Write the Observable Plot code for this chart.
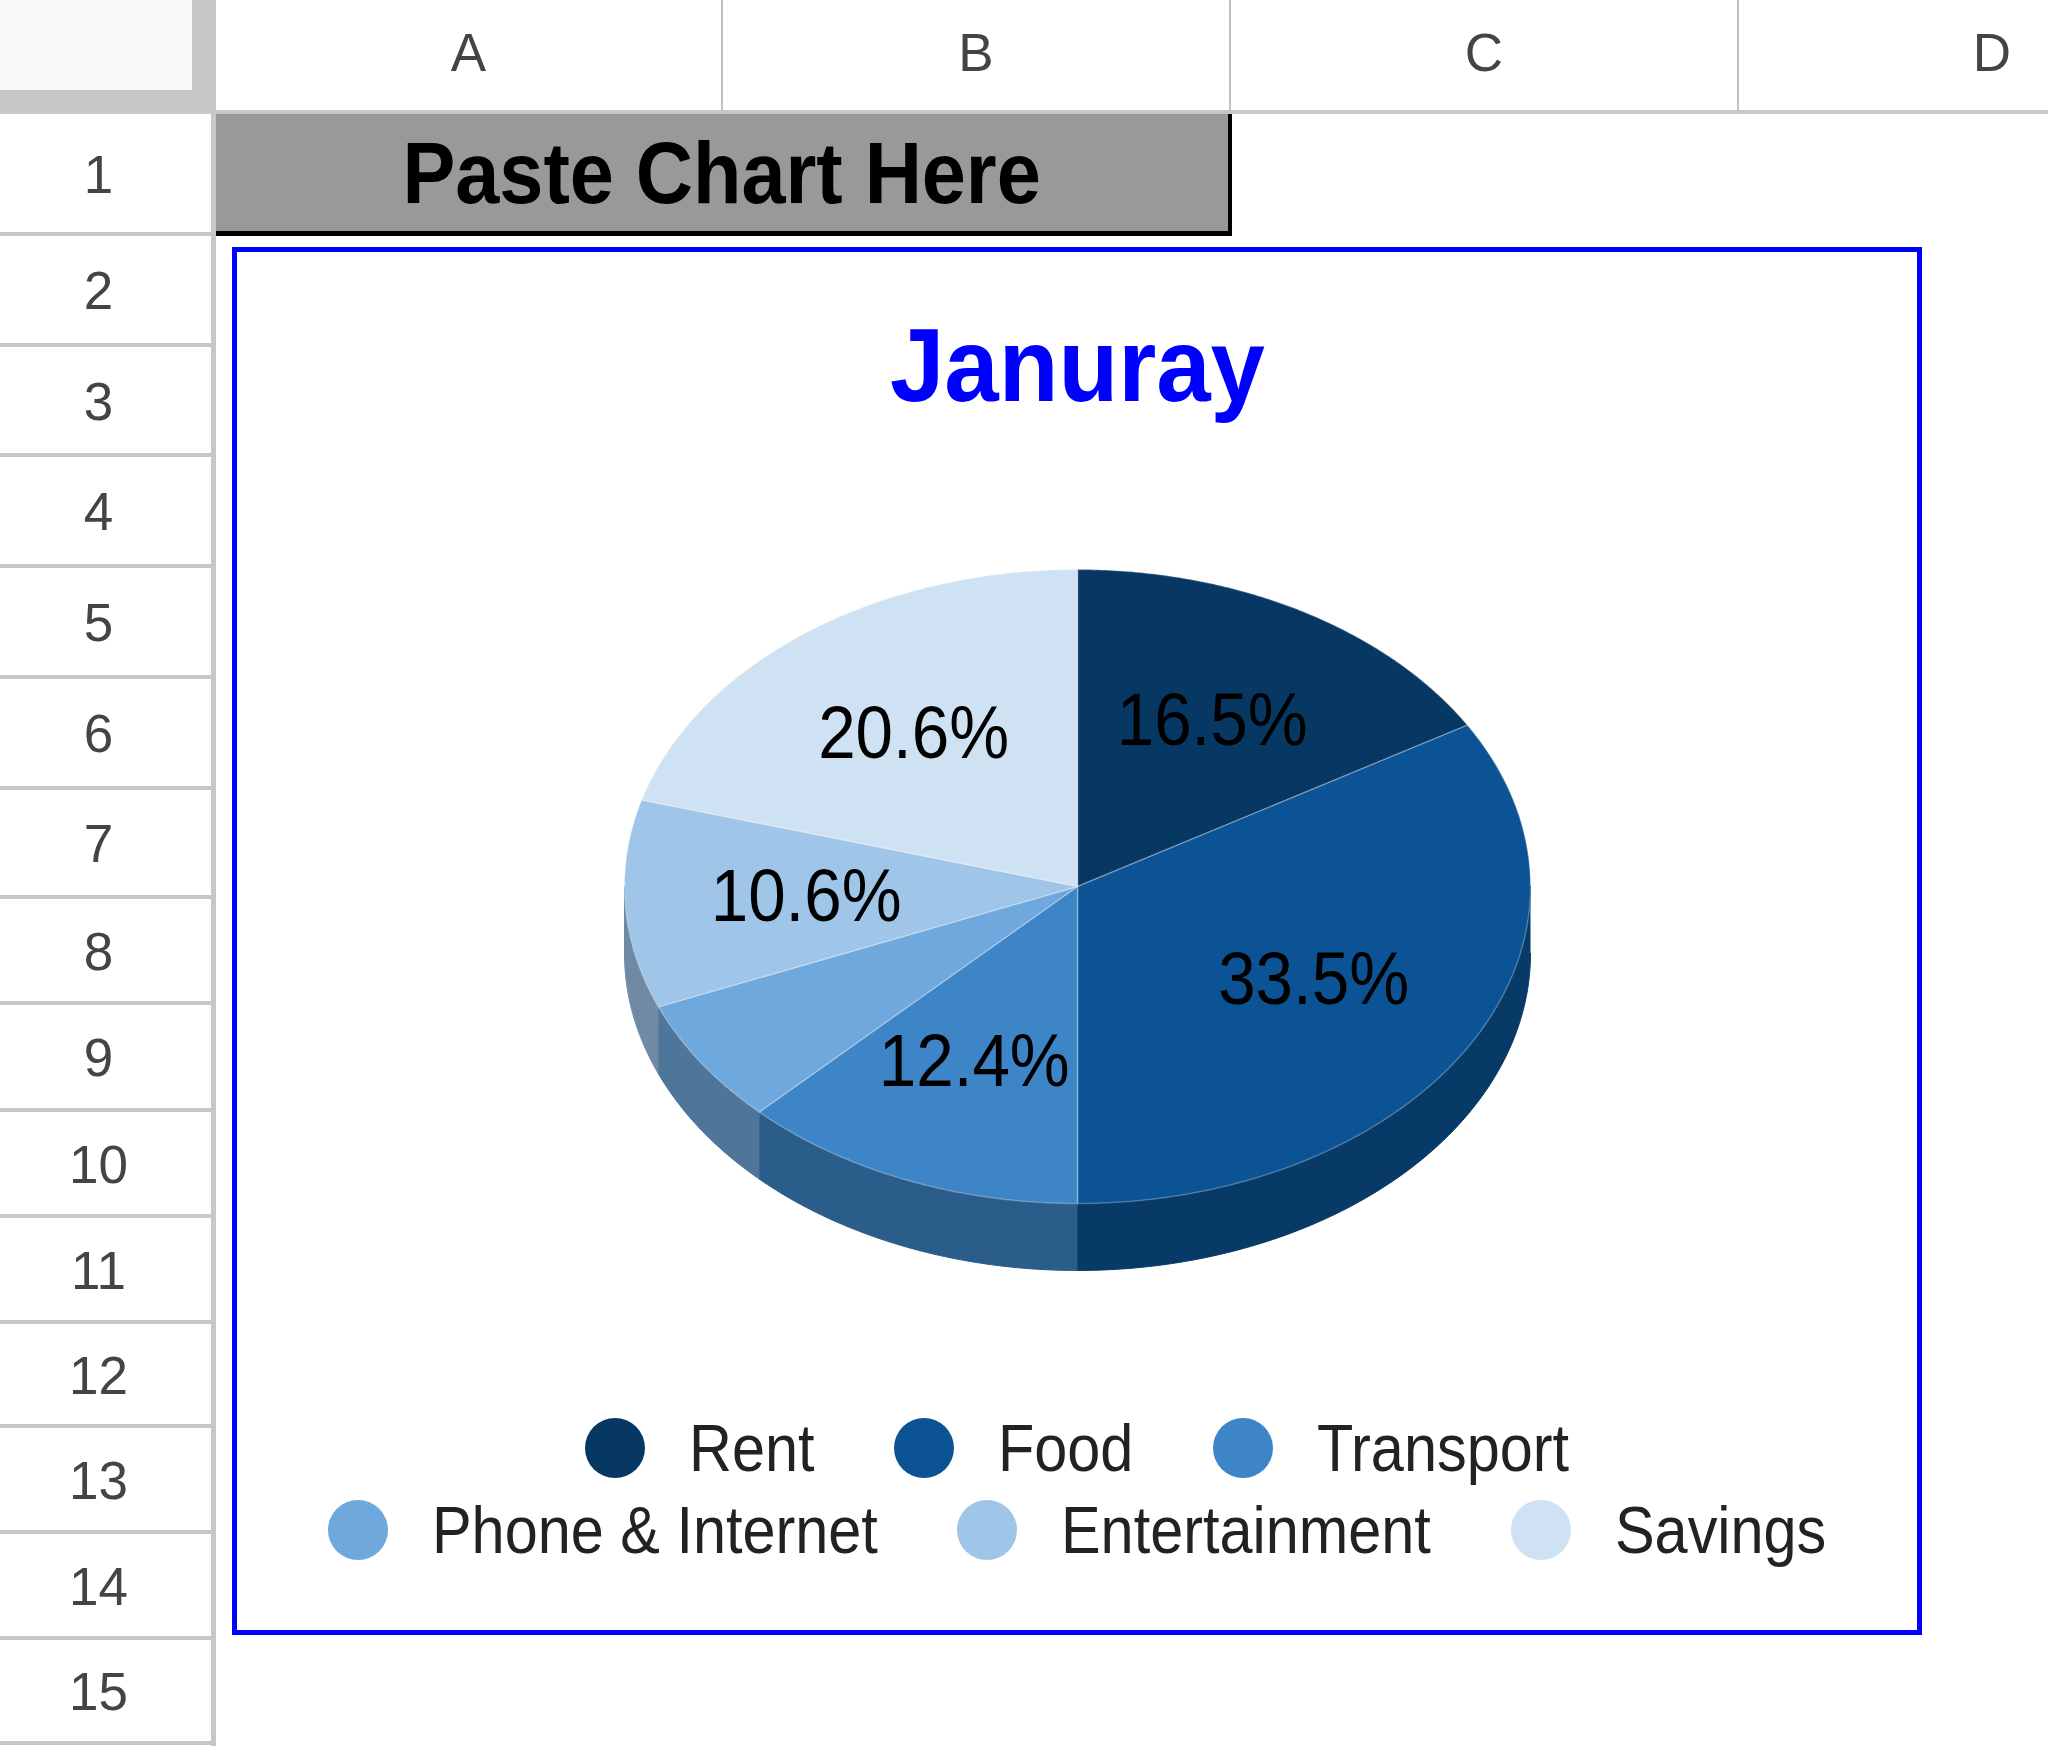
<!DOCTYPE html>
<html>
<head>
<meta charset="utf-8">
<script src="https://cdn.jsdelivr.net/npm/d3@7"></script>
<script src="https://cdn.jsdelivr.net/npm/@observablehq/plot@0.6"></script>
<style>
  html, body { margin: 0; padding: 0; background: #fff; }
  body { width: 2048px; height: 1746px; position: relative; overflow: hidden;
         font-family: "Liberation Sans", Arial, sans-serif; }
  .abs { position: absolute; }
  .sq { display: inline-block; transform: scaleX(0.9); white-space: nowrap; }
  .hdr { position: absolute; color: #444; font-size: 53px; display: flex;
         align-items: center; justify-content: center; }
  .legrow { position: absolute; left: 232px; width: 1690px; height: 80px; display: flex;
            justify-content: center; align-items: center; }
  .legitem { display: flex; align-items: center; margin: 0 40px; }
  .dot { width: 60px; height: 60px; border-radius: 50%; margin-right: 44px; flex: none; }
  .leglab { font-size: 66px; color: #222; line-height: 80px; transform-origin: left center; }
</style>
</head>
<body>
<script>
// ---------- data ----------
const chartTitle = "Januray";
const categories = ["Rent", "Food", "Transport", "Phone & Internet", "Entertainment", "Savings"];
const percents = [16.5, 33.5, 12.4, 6.4, 10.6, 20.6];
const palette = ["#073763", "#0b5394", "#3d85c6", "#6fa8dc", "#9fc5e8", "#cfe2f3"];
const legendRows = [["Rent", "Food", "Transport"], ["Phone & Internet", "Entertainment", "Savings"]];
const columnLetters = ["A", "B", "C", "D"];
const rowNumbers = [1, 2, 3, 4, 5, 6, 7, 8, 9, 10, 11, 12, 13, 14, 15];
const cellText = "Paste Chart Here";

// ---------- spreadsheet layout ----------
const colEdges = [215, 722, 1230, 1738, 2246];
const rowEdges = [113, 234, 345, 455, 566, 677, 788, 897, 1003, 1110, 1216, 1322, 1426, 1532, 1638, 1743];
const gridColor = "#c7c7c7";

function box(l, t, w, h, css = "") {
  const d = document.createElement("div");
  d.className = "abs";
  d.style.cssText += `left:${l}px;top:${t}px;width:${w}px;height:${h}px;` + css;
  document.body.appendChild(d);
  return d;
}

// corner
box(0, 0, 192, 90, "background:#f8f9fa;");
box(192, 0, 24, 113, `background:${gridColor};`);
box(0, 90, 216, 23, `background:${gridColor};`);
// header bottom line
box(0, 110, 2048, 4, `background:${gridColor};`);
// row header right line
box(211, 0, 5, 1746, `background:${gridColor};`);
// column separators in header
colEdges.slice(1, 4).forEach(x => box(x - 1, 0, 2, 111, "background:#c0c0c0;"));
// column letters
columnLetters.forEach((c, i) => {
  const d = box(colEdges[i], 0, colEdges[i + 1] - colEdges[i], 104, "");
  d.className = "hdr"; d.textContent = c;
});
// row lines and numbers
rowNumbers.forEach((n, i) => {
  const top = rowEdges[i], bot = rowEdges[i + 1];
  box(0, bot - 2, 212, 4, `background:${gridColor};`);
  const d = box(0, top + 2, 197, bot - top - 2, "");
  d.className = "hdr"; d.textContent = n;
});
// "Paste Chart Here" merged cell
const cell = box(216, 114, 1012, 117,
  "background:#999999;border-right:4px solid #000;border-bottom:5px solid #000;display:flex;align-items:center;justify-content:center;");
cell.innerHTML = `<span class="sq" style="font-size:88px;font-weight:bold;color:#000;transform:scaleX(0.9)">${cellText}</span>`;

// chart frame
box(232, 247, 1690, 1388, "border:5px solid #0000ff;box-sizing:border-box;background:#fff;");
// title
const t = box(232, 305, 1690, 120, "text-align:center;line-height:120px;");
t.innerHTML = `<span class="sq" style="font-size:104px;font-weight:bold;color:#0000ff;transform:scaleX(0.94)">${chartTitle}</span>`;

// ---------- pie (Observable Plot) ----------
const rx = 453, ry = 317, depth = 67;
const arcs = d3.pie().sort(null).value(d => d)(percents);
const slices = categories.map((c, i) => ({category: c, pct: percents[i], a0: arcs[i].startAngle, a1: arcs[i].endAngle}));

function arcPts(a0, a1, dy) {
  const n = Math.max(2, Math.ceil((a1 - a0) / (Math.PI / 360)));
  return d3.range(n + 1).map(k => {
    const a = a0 + (a1 - a0) * k / n;
    return {x: rx * Math.sin(a), y: -ry * Math.cos(a) + dy};
  });
}
const sideKey = c => c + " (side)";
const topPts = slices.flatMap(s =>
  [{x: 0, y: 0}, ...arcPts(s.a0, s.a1, 0), {x: 0, y: 0}].map(p => ({...p, key: s.category})));
const sidePts = slices.flatMap(s => {
  const a = Math.max(s.a0, Math.PI / 2), b = Math.min(s.a1, 3 * Math.PI / 2);
  if (a >= b) return [];
  return [...arcPts(a, b, 0), ...arcPts(a, b, depth).reverse()].map(p => ({...p, key: sideKey(s.category)}));
});
const labelled = slices.filter(s => s.pct >= 10);
const mid = s => (s.a0 + s.a1) / 2;

const plot = Plot.plot({
  width: 1000,
  height: 800,
  margin: 0,
  x: {domain: [-500, 500], axis: null},
  y: {domain: [-400, 400], range: [0, 800], axis: null},
  color: {
    domain: [...categories, ...categories.map(sideKey)],
    range: [...palette, ...palette.map(c => d3.color(c).darker(1).formatHex())]
  },
  style: {background: "transparent", overflow: "visible"},
  marks: [
    Plot.line(sidePts, {x: "x", y: "y", z: "key", fill: "key", stroke: "key", strokeWidth: 1}),
    Plot.line(topPts, {x: "x", y: "y", z: "key", fill: "key", stroke: "white", strokeOpacity: 0.25, strokeWidth: 1.5}),
    Plot.text(labelled, {
      x: s => 0.6 * rx * Math.sin(mid(s)),
      y: s => -0.6 * ry * Math.cos(mid(s)),
      text: s => s.pct.toFixed(1) + "%",
      fontSize: 74,
      fontFamily: "Liberation Sans, Arial, sans-serif",
      fill: "#000"
    })
  ]
});
plot.style.position = "absolute";
plot.style.left = "577px";
plot.style.top = "486px";
document.body.appendChild(plot);
plot.querySelectorAll('g[aria-label="text"] text').forEach(el => {
  const prev = el.getAttribute("transform");
  if (prev) {
    el.setAttribute("transform", `${prev} scale(0.91,1)`);
  } else {
    const x = +(el.getAttribute("x") || 0);
    el.setAttribute("transform", `translate(${x},0) scale(0.91,1) translate(${-x},0)`);
  }
});

// ---------- legend ----------
const legendTops = [1408, 1490];
legendRows.forEach((row, r) => {
  const div = document.createElement("div");
  div.className = "legrow";
  div.style.top = legendTops[r] + "px";
  row.forEach(name => {
    const it = document.createElement("div");
    it.className = "legitem";
    const dot = document.createElement("div");
    dot.className = "dot";
    dot.style.background = palette[categories.indexOf(name)];
    const lab = document.createElement("span");
    lab.className = "sq leglab";
    lab.textContent = name;
    it.appendChild(dot); it.appendChild(lab);
    div.appendChild(it);
  });
  document.body.appendChild(div);
  div.querySelectorAll(".leglab").forEach(l => { l.style.marginRight = (-0.1 * l.offsetWidth) + "px"; });
});
</script>
</body>
</html>
